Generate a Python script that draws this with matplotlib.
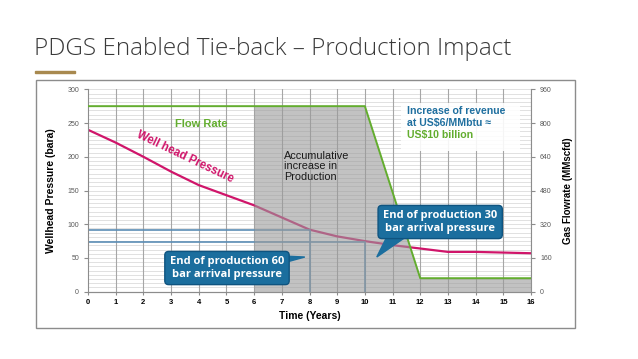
import matplotlib.pyplot as plt
import matplotlib.patches as patches
import numpy as np

plt.rcParams['font.family'] = ['Liberation Sans', 'DejaVu Sans']

# data
years = np.arange(0, 17)
pressure = [240, 221, 200, 178, 158, 143, 128, 110, 92, 82, 75, 69, 64, 59, 59, 58, 57]  # bara
flow_years = [0, 10, 12, 16]
flow_rate = [880, 880, 64, 64]  # MMscfd
shade_years = [6, 10, 12, 16]
shade_flow = [880, 880, 64, 64]
p60_level, p60_end = 91, 8     # 60 bar arrival -> end year 8
p30_level, p30_end = 74, 10    # 30 bar arrival -> end year 10

magenta = '#d0156a'
green = '#63ad2f'
steel = '#5b8db5'
callout = '#1b6e9e'

fig = plt.figure(figsize=(6.38, 3.59), dpi=100)

# slide title + gold bar
fig.text(34/638, 1 - 49/359, 'PDGS Enabled Tie-back \u2013 Production Impact',
         fontsize=17.5, family=['Open Sans', 'DejaVu Sans'], fontweight='light',
         color='#3a3a3a', va='center')
fig.patches.append(patches.Rectangle((35/638, 1 - 73/359), 40/638, 2.5/359,
                                     transform=fig.transFigure, color='#a8894f'))
# chart frame
fig.patches.append(patches.Rectangle((36/638, 1 - 328/359), (575-36)/638, (328-80)/359,
                                     transform=fig.transFigure, fill=False,
                                     ec='#8c8c8c', lw=1.0))

ax = fig.add_axes([88/638, 1 - 291.7/359, (531-88)/638, (291.7-89.3)/359])
ax2 = ax.twinx()

ax.set_xlim(0, 16)
ax.set_ylim(0, 300)
ax2.set_ylim(0, 960)

# grid
for y in np.arange(0, 300.1, 6.25):
    ax.axhline(y, color='#d4d4d4', lw=0.5, zorder=0)
for x in range(1, 17):
    ax.axvline(x, color='#a6a6a6', lw=0.8, zorder=0)

# pressure curve
ax.plot(years, pressure, color=magenta, lw=1.6, zorder=2)

# 60 / 30 bar arrival pressure lines
ax.plot([0, p60_end, p60_end], [p60_level, p60_level, 0], color=steel, lw=1.2, zorder=2)
ax.plot([0, p30_end, p30_end], [p30_level, p30_level, 0], color=steel, lw=1.2, zorder=2)

# accumulative increase shading + flow rate
ax2.fill_between(shade_years, 0, shade_flow, color='#9a9a9a', alpha=0.6, lw=0, zorder=3)
ax2.plot(flow_years, flow_rate, color=green, lw=1.4, zorder=4)
ax2.set_zorder(ax.get_zorder() + 1)
ax2.patch.set_visible(False)

# text annotations (drawn on the top axes, placed in pressure units)
td = ax.transData
ax2.text(4.1, 249, 'Flow Rate', color=green, fontsize=8, fontweight='bold',
         ha='center', va='center', transform=td)
ax2.text(3.5, 199, 'Well head Pressure', color=magenta, fontsize=8.3, fontweight='bold',
         ha='center', va='center', rotation=-25.5, transform=td)
ax2.text(7.08, 209, 'Accumulative\nincrease in\nProduction', color='#1a1a1a', fontsize=7.8,
         ha='left', va='top', linespacing=1.1, zorder=6, transform=td)

ax2.add_patch(patches.Rectangle((11.3, 208), 4.3, 72, fc='white', ec='none', alpha=0.9,
                                zorder=5, transform=td))
ax2.text(11.52, 268, 'Increase of revenue', color='#1f6f9f',
         fontsize=7.6, fontweight='bold', ha='left', va='center', zorder=6, transform=td)
ax2.text(11.52, 250, 'at US$6/MMbtu \u2248', color='#1f6f9f',
         fontsize=7.6, fontweight='bold', ha='left', va='center', zorder=6, transform=td)
ax2.text(11.52, 232, 'US$10 billion', color=green, fontsize=7.6, fontweight='bold',
         ha='left', va='center', zorder=6, transform=td)

# callouts: rounded box + pointer triangle
box_style = dict(boxstyle='round,pad=0.45,rounding_size=0.35', fc=callout, ec='#0f5480')
ax2.add_patch(patches.Polygon([(7.0, 53), (7.0, 42), (7.83, 51.4)], closed=True,
                              fc=callout, ec=callout, zorder=7, transform=td))
ax2.text(5.02, 35.1, 'End of production 60\nbar arrival pressure', ha='center',
         va='center', color='white', fontsize=8, fontweight='bold',
         family=['Open Sans', 'DejaVu Sans'], linespacing=1.15, zorder=8,
         bbox=box_style, transform=td)
ax2.add_patch(patches.Polygon([(10.85, 86), (11.65, 86), (10.43, 51.4)], closed=True,
                              fc=callout, ec=callout, zorder=7, transform=td))
ax2.text(12.72, 103.3, 'End of production 30\nbar arrival pressure', ha='center',
         va='center', color='white', fontsize=8, fontweight='bold',
         family=['Open Sans', 'DejaVu Sans'], linespacing=1.15, zorder=8,
         bbox=box_style, transform=td)

# axes styling
ax.set_xticks(range(0, 17))
ax.set_yticks(range(0, 301, 50))
ax2.set_yticks(range(0, 961, 160))
ax.tick_params(axis='x', labelsize=5.5, length=2.5, color='#8c8c8c', pad=3)
for lbl in ax.get_xticklabels():
    lbl.set_fontweight('bold')
ax.tick_params(axis='y', labelsize=5, labelcolor='#595959', length=3, color='#8c8c8c')
ax2.tick_params(axis='y', labelsize=5, labelcolor='#595959', length=3, color='#8c8c8c')
for a in (ax, ax2):
    for s in ('top', 'right'):
        a.spines[s].set_visible(False)
    for s in ('left', 'bottom'):
        a.spines[s].set_color('#8c8c8c')
        a.spines[s].set_linewidth(0.8)
ax2.spines['left'].set_visible(False)
ax2.spines['right'].set_visible(True)
ax2.spines['right'].set_color('#8c8c8c')
ax2.spines['right'].set_linewidth(0.8)

ax.set_xlabel('Time (Years)', fontsize=7.5, fontweight='bold', labelpad=3)
ax.set_ylabel('Wellhead Pressure (bara)', fontsize=7.5, fontweight='bold', labelpad=8)
ax2.set_ylabel('Gas Flowrate (MMscfd)', fontsize=7, fontweight='bold', labelpad=8)

fig.savefig('out.png', dpi=100)
